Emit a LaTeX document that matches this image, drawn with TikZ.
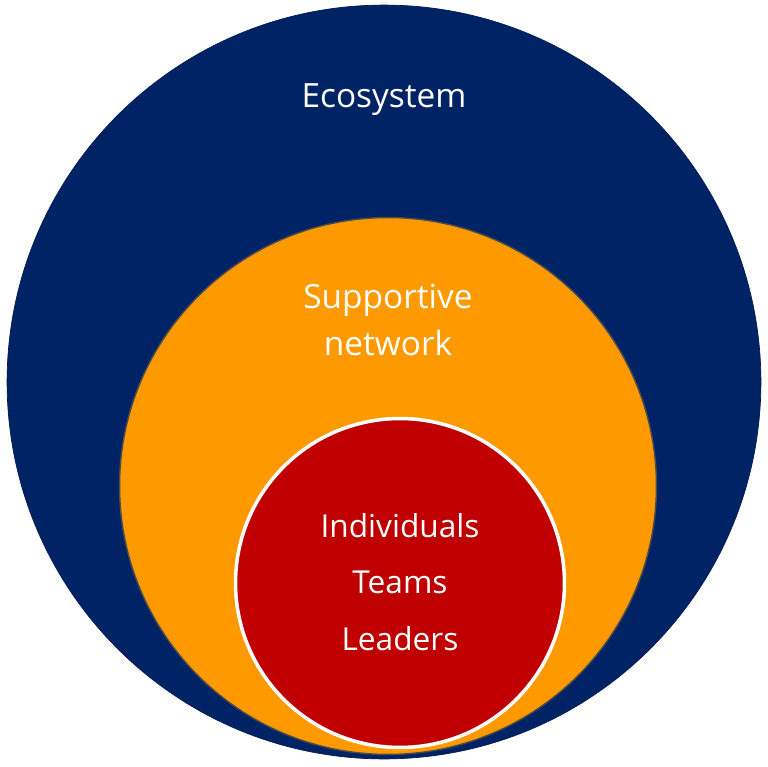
\documentclass[tikz,border=0pt]{standalone}
\usepackage{fontspec}
\setmainfont{Open Sans}
\definecolor{ecoblue}{RGB}{0,35,102}
\definecolor{netorange}{RGB}{255,153,0}
\definecolor{corered}{RGB}{192,0,0}
\tikzset{ring/.style={circle, minimum size=#1, inner sep=0pt},
  lbl/.style={text=white, font=\fontsize{19}{27}\selectfont, align=center}}
\begin{document}
\begin{tikzpicture}[x=0.02cm, y=-0.02cm]
\useasboundingbox (0,0) rectangle (768,767);
\node [ring=15.08cm, fill=ecoblue, draw=ecoblue!80!black] (eco) at (384,382) {};
\node [ring=10.74cm, fill=netorange, draw=black!70, line width=0.8pt] (net) at (388,486) {};
\node [ring=6.58cm, fill=corered, draw=white, line width=2pt] (core) at (400,583) {};
\node [lbl] (ecolbl) at (384,100) {Ecosystem};
\node [lbl] (netlbl) at (388,320) {Supportive\\network};
\node [lbl, font=\fontsize{18}{32}\selectfont] (corelbl) at (400,582) {Individuals\\Teams\\Leaders};
\end{tikzpicture}
\end{document}
